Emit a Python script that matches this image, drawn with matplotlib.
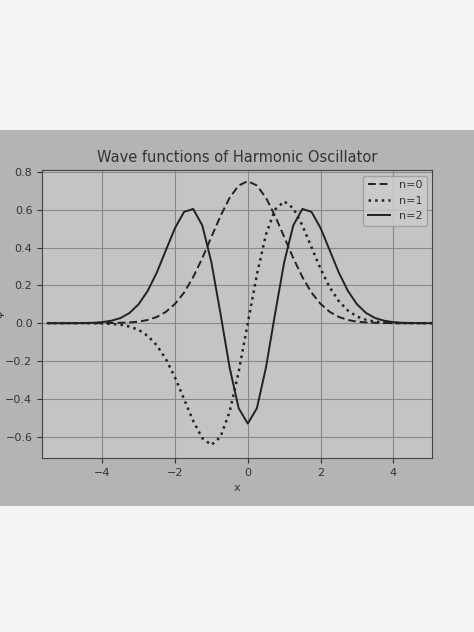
import matplotlib.pyplot as plt
from matplotlib.patches import Rectangle
import numpy as np

# values, x from 0 to 5.5 step 0.25 (curves are mirrored)
x_half = [0, 0.25, 0.5, 0.75, 1, 1.25, 1.5, 1.75, 2, 2.25, 2.5, 2.75, 3, 3.25,
          3.5, 3.75, 4, 4.25, 4.5, 4.75, 5, 5.25, 5.5]
psi0_half = [0.751, 0.728, 0.663, 0.567, 0.456, 0.344, 0.244, 0.162, 0.102, 0.060,
             0.033, 0.017, 0.008, 0.004, 0.002, 0.001, 0, 0, 0, 0, 0, 0, 0]
psi1_half = [0, 0.257, 0.469, 0.601, 0.644, 0.608, 0.517, 0.402, 0.287, 0.190,
             0.117, 0.067, 0.035, 0.018, 0.008, 0.004, 0.001, 0, 0, 0, 0, 0, 0]
psi2_half = [-0.531, -0.450, -0.234, 0.050, 0.322, 0.517, 0.604, 0.589, 0.503, 0.386,
             0.268, 0.171, 0.100, 0.054, 0.027, 0.013, 0.0055, 0.002, 0.001, 0, 0, 0, 0]

xh = np.array(x_half)
x = np.concatenate([-xh[::-1], xh[1:]])
psi0 = np.concatenate([np.array(psi0_half)[::-1], psi0_half[1:]])
psi1 = np.concatenate([-np.array(psi1_half)[::-1], psi1_half[1:]])
psi2 = np.concatenate([np.array(psi2_half)[::-1], psi2_half[1:]])

fig = plt.figure(figsize=(4.74, 6.32), dpi=100, facecolor='#f4f4f4')
fig.patches.append(Rectangle((0, 0.2), 1, 0.595, transform=fig.transFigure,
                             facecolor='#b4b4b4', zorder=-1))
ax = fig.add_axes([0.089, 0.275, 0.823, 0.456], facecolor='#c4c4c4')

ax.plot(x, psi0, color='#222222', lw=1.4, linestyle=(0, (4, 2)), label='n=0')
ax.plot(x, psi1, ':', color='#222222', lw=1.8, label='n=1')
ax.plot(x, psi2, '-', color='#222222', lw=1.4, label='n=2')

ax.set_xlim(-5.65, 5.07)
ax.set_ylim(-0.714, 0.81)
ax.set_xticks([-4, -2, 0, 2, 4])
ax.grid(True, color='#888888', lw=0.8)
ax.set_title('Wave functions of Harmonic Oscillator', color='#333333', fontsize=10.5)
ax.set_xlabel('x', color='#333333', fontsize=8)
ax.set_ylabel('ψ', color='#333333', fontsize=8, labelpad=1)
ax.tick_params(colors='#333333', labelsize=8)
for s in ax.spines.values():
    s.set_color('#444444')
ax.legend(loc='upper right', fontsize=8, facecolor='#cccccc', edgecolor='#999999',
          labelcolor='#333333')

fig.savefig('out.png', dpi=100, facecolor=fig.get_facecolor())
